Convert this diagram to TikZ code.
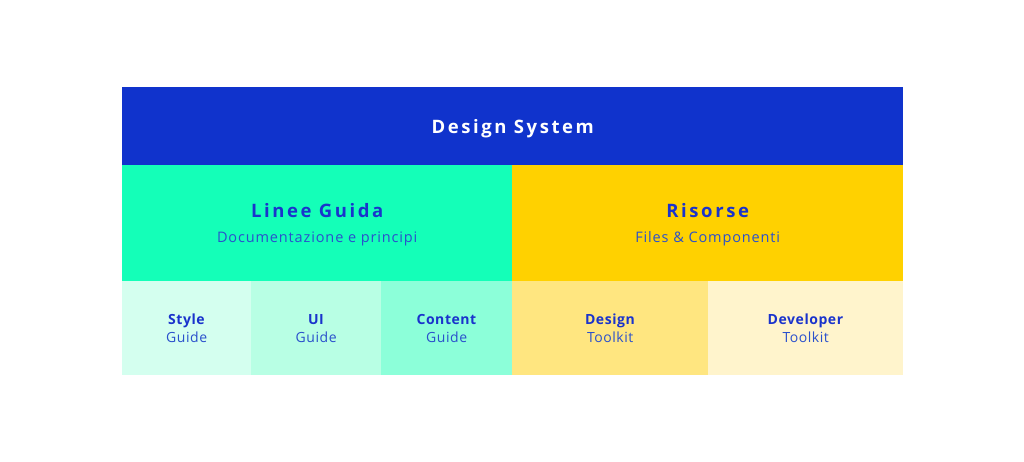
\documentclass[tikz,border=0pt]{standalone}
\usepackage{fontspec}
\setmainfont{Open Sans}
\newfontfamily\wideb[LetterSpace=14]{Open Sans}
\newfontfamily\widem[LetterSpace=6]{Open Sans}
\newfontfamily\cellf[LetterSpace=4]{Open Sans}
\usetikzlibrary{positioning}
\definecolor{dsblue}{RGB}{16,51,204}
\definecolor{dsgreen}{RGB}{20,255,184}
\definecolor{dsyellow}{RGB}{255,209,0}
\definecolor{dstext}{RGB}{26,51,204}
\definecolor{dssub}{RGB}{42,80,204}
\tikzstyle{block} = [rectangle, anchor=north west, inner sep=0pt, align=center, text=dstext]
\tikzstyle{group} = [block, minimum height=116pt, text depth=-5pt, font=\fontsize{14}{14}\selectfont]
\tikzstyle{cell} = [block, minimum height=94pt, text depth=-11pt, font=\cellf\fontsize{14}{18}\selectfont]

\begin{document}
\begin{tikzpicture}[x=1pt, y=-1pt]
 \useasboundingbox (0,0) rectangle (1024,462);

 \node (ds) [block, fill=dsblue, minimum width=781pt, minimum height=78pt, text=white, text depth=-1pt, font=\wideb\bfseries\fontsize{18.5}{20}\selectfont] at (122,87) {Design System};

 \node (lg) [group, fill=dsgreen, minimum width=390pt] at (122,165) {{\wideb\bfseries\fontsize{18.5}{20}\selectfont Linee Guida}\\[11pt]{\widem\color{dssub}\fontsize{14.5}{16}\selectfont Documentazione e principi}};
 \node (ri) [group, fill=dsyellow, minimum width=391pt] at (512,165) {{\wideb\bfseries\fontsize{18.5}{20}\selectfont Risorse}\\[11pt]{\widem\color{dssub}\fontsize{14.5}{16}\selectfont Files \& Componenti}};

 \node (sg) [cell, fill={rgb,255:red,212;green,255;blue,239}, minimum width=129pt] at (122,281) {\textbf{Style}\\{\color{dssub}Guide}};
 \node (ui) [cell, fill={rgb,255:red,184;green,255;blue,228}, minimum width=130pt] at (251,281) {\textbf{UI}\\{\color{dssub}Guide}};
 \node (cg) [cell, fill={rgb,255:red,140;green,255;blue,217}, minimum width=131pt] at (381,281) {\textbf{Content}\\{\color{dssub}Guide}};
 \node (dt) [cell, fill={rgb,255:red,255;green,230;blue,128}, minimum width=196pt] at (512,281) {\textbf{Design}\\{\color{dssub}Toolkit}};
 \node (dv) [cell, fill={rgb,255:red,255;green,244;blue,204}, minimum width=195pt] at (708,281) {\textbf{Developer}\\{\color{dssub}Toolkit}};
\end{tikzpicture}
\end{document}
